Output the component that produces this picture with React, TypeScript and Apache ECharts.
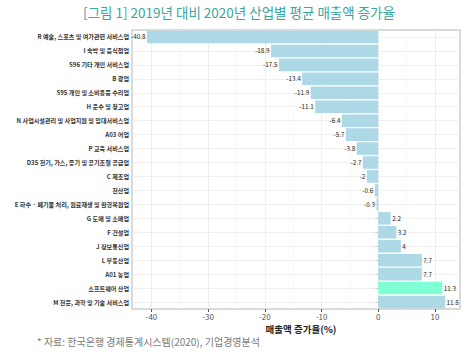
import React, { useEffect, useRef } from "react";
import * as echarts from "echarts";

const categories = [
  "R 예술, 스포츠 및 여가관련 서비스업",
  "I 숙박 및 음식점업",
  "S96 기타 개인 서비스업",
  "B 광업",
  "S95 개인 및 소비용품 수리업",
  "H 운수 및 창고업",
  "N 사업시설관리 및 사업지원 및 임대서비스업",
  "A03 어업",
  "P 교육 서비스업",
  "D35 전기, 가스, 증기 및 공기조절 공급업",
  "C 제조업",
  "전산업",
  "E 하수 · 폐기물 처리, 원료재생 및 환경복원업",
  "G 도매 및 소매업",
  "F 건설업",
  "J 정보통신업",
  "L 부동산업",
  "A01 농업",
  "소프트웨어 산업",
  "M 전문, 과학 및 기술 서비스업",
];
const values = [-40.8, -18.9, -17.5, -13.4, -11.9, -11.1, -6.4, -5.7, -3.8, -2.7, -2, -0.6, -0.3, 2.2, 3.2, 4, 7.7, 7.7, 11.3, 11.8];
const highlight = "소프트웨어 산업";
const majorTicks = [-40, -30, -20, -10, 0, 10];
const minorTicks = [-35, -25, -15, -5, 5];
const xMin = -43.43;
const xMax = 14.43;

const titleText = "[그림 1] 2019년 대비 2020년 산업별 평균 매출액 증가율";
const xTitle = "매출액 증가율(%)";
const sourceText = "* 자료: 한국은행 경제통계시스템(2020), 기업경영분석";

const FONT = "'Noto Sans CJK KR', 'Noto Sans', sans-serif";

export default function App() {
  const ref = useRef<HTMLDivElement>(null);
  useEffect(() => {
    document.body.style.margin = "0";
    if (!ref.current) return;
    const chart = echarts.init(ref.current, undefined, { renderer: "svg" });
    const data = values.map((v, i) => ({
      value: v,
      itemStyle: { color: categories[i] === highlight ? "#7FFFD4" : "#ADD8E6" },
      label: { position: v < 0 ? "left" : "right" },
    }));
    chart.setOption({
      animation: false,
      textStyle: { fontFamily: FONT },
      title: [
        {
          text: titleText,
          left: 234,
          textAlign: "center",
          top: 0,
          textStyle: { fontSize: 13.5, fontWeight: "normal", color: "#3aa69f", fontFamily: FONT },
        },
        {
          text: xTitle,
          left: 296,
          textAlign: "center",
          top: 319,
          textStyle: { fontSize: 9.5, fontWeight: "bold", color: "#222", fontFamily: FONT },
        },
        {
          text: sourceText,
          left: 32,
          top: 331,
          textStyle: { fontSize: 10, fontWeight: "normal", color: "#7a7a7a", fontFamily: FONT },
        },
      ],
      grid: {
        left: 132,
        right: 14,
        top: 30,
        bottom: 48,
        show: true,
        borderColor: "#b5b5b5",
        borderWidth: 1,
        backgroundColor: "transparent",
      },
      xAxis: {
        type: "value",
        min: xMin,
        max: xMax,
        axisLine: { show: false },
        splitLine: { show: false },
        axisTick: { show: true, customValues: majorTicks, length: 3, lineStyle: { color: "#555" } },
        axisLabel: {
          customValues: majorTicks,
          fontSize: 8,
          color: "#555",
          margin: 3,
          fontFamily: FONT,
        },
      },
      yAxis: {
        type: "category",
        data: categories,
        inverse: true,
        axisLine: { show: false },
        axisTick: { show: true, alignWithLabel: true, length: 3, lineStyle: { color: "#555" } },
        axisLabel: { interval: 0, fontSize: 6.1, fontWeight: "bold", color: "#333", margin: 3, fontFamily: FONT },
        splitLine: { show: false },
      },
      series: [
        {
          type: "bar",
          data,
          barCategoryGap: "10%",
          z: 2,
          label: {
            show: true,
            fontSize: 6.3,
            color: "#222",
            distance: 1.5,
            formatter: (p: any) => String(p.value),
            fontFamily: FONT,
          },
          markLine: {
            silent: true,
            z: 1,
            symbol: "none",
            label: { show: false },
            emphasis: { disabled: true },
            data: [
              ...categories.map((c) => ({ yAxis: c, lineStyle: { color: "#ebebeb", width: 0.8, type: "solid" } })),
              ...majorTicks.map((v) => ({ xAxis: v, lineStyle: { color: "#ebebeb", width: 0.8, type: "solid" } })),
              ...minorTicks.map((v) => ({ xAxis: v, lineStyle: { color: "#f2f2f2", width: 0.5, type: "solid" } })),
            ],
          },
        },
      ],
    });
    return () => chart.dispose();
  }, []);
  return <div ref={ref} style={{ width: 474, height: 357 }} />;
}
